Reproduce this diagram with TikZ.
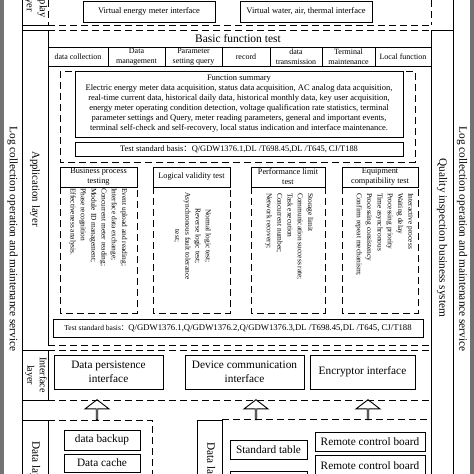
\documentclass[tikz,border=0pt]{standalone}
\usepackage{fontspec}
\setmainfont{Liberation Serif}
\newfontfamily\cjk{Noto Sans CJK SC}
\usetikzlibrary{shapes.arrows}

\tikzset{
  frame/.style={line width=0.9pt},
  dash line/.style={line width=1pt, dash pattern=on 7pt off 4pt},
  cell/.style={draw, line width=0.9pt, inner sep=1pt, outer sep=0pt, align=center},
  tiny/.style={font=\fontsize{7.4}{10.3}\selectfont},
  small/.style={font=\fontsize{8}{10}\selectfont},
  head/.style={font=\fontsize{8.3}{10}\selectfont},
  big/.style={font=\fontsize{11.3}{14}\selectfont},
  vert/.style={rotate=-90, inner sep=0pt},
  uparrow/.style={single arrow, draw, line width=0.9pt, shape border rotate=90,
    minimum height=20pt, minimum width=24pt, single arrow head extend=7pt,
    single arrow tip angle=105, inner sep=0pt}
}

\begin{document}
\begin{tikzpicture}[x=1pt, y=-1pt]
  \useasboundingbox (0,0) rectangle (474,474);
  \fill[black!55] (0,0) rectangle (3.5,474);
  \fill[black!55] (469.5,0) rectangle (474,474);

  % frame of the layers
  \draw[frame] (22,0) -- (22,474);
  \draw[frame] (453,0) -- (453,474);
  \draw[frame] (431,30) -- (431,474);
  \draw[frame] (48,30) -- (48,345);
  \draw[frame] (48,350) -- (48,400);
  \draw[dash line] (48,0) -- (48,25);
  \draw[dash line] (431,0) -- (431,25);
  \draw[frame] (22,25) -- (48,25);
  \draw[dash line] (48,25) -- (431,25);
  \draw[frame] (22,30) -- (48,30);
  \draw[dash line] (48,30) -- (431,30);
  \draw[frame] (431,30) -- (453,30);
  \draw[dash line] (48,345) -- (431,345);
  \draw[frame] (22,350) -- (48,350);
  \draw[dash line] (48,350) -- (431,350);
  \draw[frame] (22,400) -- (48,400);
  \draw[dash line] (48,400) -- (431,400);
  \draw[frame] (22,420) -- (48,420) -- (48,480);
  \draw[dash line] (48,420) -- (152,420) -- (152,480);
  \draw[dash line] (222,419) -- (431,419);
  \draw[frame] (197,480) -- (197,420) -- (222,420) -- (222,480);

  % side labels
  \node[vert, big] (logl) at (12.5,239) {Log collection operation and maintenance service};
  \node[vert, big] (logr) at (462,239) {Log collection operation and maintenance service};
  \node[vert, big] (qual) at (442,238) {Quality inspection business system};
  \node[vert, font=\fontsize{10.5}{13}\selectfont, align=center] (disp) at (36,1.5) {Display\\layer};
  \node[vert, font=\fontsize{10.8}{13}\selectfont] (app) at (35,189) {Application layer};
  \node[vert, font=\fontsize{10}{12.5}\selectfont, align=center] (ifl) at (36,375) {Interface\\layer};
  \node[vert, big, anchor=west] (dll) at (35,441) {Data layer};
  \node[vert, big, anchor=west] (dlr) at (210,442) {Data layer};

  % display layer
  \node[cell, font=\fontsize{8.5}{10}\selectfont, minimum width=132pt, minimum height=21pt] (vem) at (149,11.5) {Virtual energy meter interface};
  \node[cell, font=\fontsize{8.5}{10}\selectfont, minimum width=132pt, minimum height=21pt] (vwat) at (306,11.5) {Virtual water, air, thermal interface};

  % application layer
  \node[font=\fontsize{11.5}{13}\selectfont] (bft) at (238,39) {Basic function test};
  \node[cell, small, minimum width=60pt, minimum height=19pt] (fc1) at (78,56.5) {data collection};
  \node[cell, small, minimum width=57pt, minimum height=19pt] (fc2) at (136.5,56.5) {Data\\management};
  \node[cell, small, minimum width=57pt, minimum height=19pt] (fc3) at (193.5,56.5) {Parameter\\setting query};
  \node[cell, small, minimum width=48pt, minimum height=19pt] (fc4) at (246,56.5) {record};
  \node[cell, small, minimum width=52pt, minimum height=19pt] (fc5) at (296,56.5) {data\\transmission};
  \node[cell, small, minimum width=53pt, minimum height=19pt] (fc6) at (348.5,56.5) {Terminal\\maintenance};
  \node[cell, small, minimum width=56pt, minimum height=19pt] (fc7) at (403,56.5) {Local function};

  \draw[dash line] (60,71) rectangle (415,162);
  \node[cell, font=\fontsize{8.5}{10}\selectfont, minimum width=328pt, minimum height=66pt] (summ) at (239,104) {Function summary\\
    Electric energy meter data acquisition, status data acquisition, AC analog data acquisition,\\
    real-time current data, historical daily data, historical monthly data, key user acquisition,\\
    energy meter operating condition detection, voltage qualification rate statistics, terminal\\
    parameter settings and Query, meter reading parameters, general and important events,\\
    terminal self-check and self-recovery, local status indication and interface maintenance.};
  \node[cell, font=\fontsize{8.4}{10}\selectfont, minimum width=328pt, minimum height=14pt] (std1) at (239,149)
    {Test standard basis{\cjk ：}Q/GDW1376.1,DL /T698.45,DL /T645, CJ/T188};

  \node[cell, head, minimum width=77pt, minimum height=20pt] (bpt) at (98.5,177) {Business process\\testing};
  \node[cell, head, minimum width=77pt, minimum height=20pt] (lvt) at (191.5,177) {Logical validity test};
  \node[cell, head, minimum width=74pt, minimum height=20pt] (plt) at (288,177) {Performance limit\\test};
  \node[cell, head, minimum width=76pt, minimum height=20pt] (ect) at (380,177) {Equipment\\compatibility test};
  \draw[dash line] (60,187) rectangle (137,313);
  \draw[dash line] (153,187) rectangle (230,313);
  \draw[dash line] (251,187) rectangle (325,313);
  \draw[dash line] (342,187) rectangle (418,313);

  \node[vert, tiny, anchor=north west, align=left] (bptx) at (127.5,188) {Event upload and reading;\\Interface data exchange;\\Concurrent meter reading;\\Module ID management;\\Phase recognition\\Effectiveness analysis.};
  \node[vert, tiny, align=center] (lvtx) at (192.5,236) {Normal logic test;\\Reverse logic test;\\Asynchronous fault tolerance\\test;};
  \node[vert, tiny, anchor=north west, align=left] (pltx) at (313.5,193) {Storage limit\\Communication success rate;\\Task execution\\Concurrent number;\\Network recovery;};
  \node[vert, tiny, anchor=north west, align=left] (ectx) at (413.5,193) {Interactive process\\Waiting delay\\Processing priority\\Time asynchronous\\Processing consistency\\Confirm repeat mechanism;};

  \node[cell, font=\fontsize{8.7}{10}\selectfont, minimum width=370pt, minimum height=18pt] (std2) at (238,328)
    {{\fontsize{7.5}{8}\selectfont Test standard basis{\cjk ：}}Q/GDW1376.1,Q/GDW1376.2,Q/GDW1376.3,DL /T698.45,DL /T645, CJ/T188};

  % interface layer
  \node[cell, big, minimum width=109pt, minimum height=34pt] (ip1) at (108.5,372) {Data persistence\\interface};
  \node[cell, big, minimum width=119pt, minimum height=34pt] (ip2) at (244.5,372) {Device communication\\interface};
  \node[cell, big, minimum width=105pt, minimum height=34pt] (ip3) at (362.5,372) {Encryptor interface};

  \node[uparrow] (ar1) at (97,410) {};
  \node[uparrow] (ar2) at (256,410) {};
  \node[uparrow] (ar3) at (368,410) {};

  % data layer
  \node[cell, big, minimum width=76pt, minimum height=20pt] (db) at (102,440) {data backup};
  \node[cell, big, minimum width=76pt, minimum height=18pt] (dc) at (102,463) {Data cache};
  \node[cell, big, minimum width=77pt, minimum height=19pt] (st) at (268.5,449.5) {Standard table};
  \node[cell, minimum width=77pt, minimum height=20pt] (st2) at (268.5,481) {};
  \node[cell, big, minimum width=110pt, minimum height=19pt] (rcb1) at (370,441.5) {Remote control board};
  \node[cell, big, minimum width=110pt, minimum height=21pt] (rcb2) at (370,465.5) {Remote control board};
\end{tikzpicture}
\end{document}
